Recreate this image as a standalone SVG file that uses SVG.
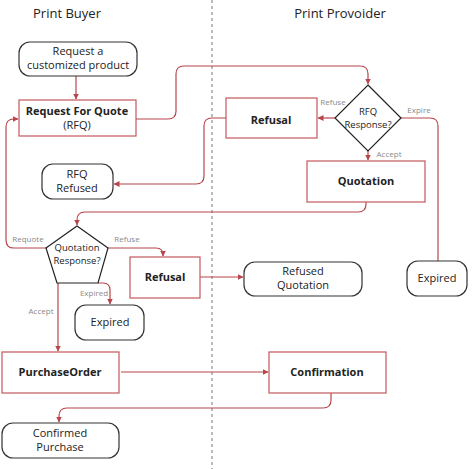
<svg xmlns="http://www.w3.org/2000/svg" width="474" height="469" viewBox="0 0 474 469">
<style>
text{font-family:"Open Sans","Noto Sans","DejaVu Sans",sans-serif;fill:#222;text-anchor:middle}
.t{font-size:13px}
.n{font-size:11px}
.s{font-size:9.5px}
.b{font-size:11px;font-weight:bold}
.l{font-size:8px;fill:#8a8a8a}
.box{fill:#fff;stroke:#c4575c;stroke-width:1.2}
.rnd{fill:#fff;stroke:#333;stroke-width:1.2}
.dec{fill:#fff;stroke:#222;stroke-width:1.2}
.c{fill:none;stroke:#b8464c;stroke-width:1.2}
</style>
<defs>
<marker id="a" viewBox="0 0 6 6" refX="5.5" refY="3" markerWidth="5" markerHeight="5" orient="auto">
<path d="M0,0 L6,3 L0,6 z" fill="#b8464c"/>
</marker>
</defs>
<line x1="212" y1="0" x2="212" y2="469" stroke="#777" stroke-width="1" stroke-dasharray="3,3"/>
<text class="t" x="67" y="18">Print Buyer</text>
<text class="t" x="340" y="18">Print Provoider</text>

<g id="connectors">
<path class="c" d="M76,76 V99" marker-end="url(#a)"/>
<path class="c" d="M136,119 H168 Q176,119 176,111 V74 Q176,66 184,66 H360 Q368,66 368,74 V84" marker-end="url(#a)"/>
<path class="c" d="M335,118 H318" marker-end="url(#a)"/>
<path class="c" d="M226,118 H212 Q204,118 204,126 V176 Q204,184 196,184 H114" marker-end="url(#a)"/>
<path class="c" d="M401,118 H430 Q438,118 438,126 V261"/>
<path class="c" d="M368,151 V160" marker-end="url(#a)"/>
<path class="c" d="M366,202 V204 Q366,212 358,212 H85 Q77,212 77,220 V225" marker-end="url(#a)"/>
<path class="c" d="M46,248 H14 Q6,248 6,240 V127 Q6,119 14,119 H18" marker-end="url(#a)"/>
<path class="c" d="M108,248 H156 Q163,248 163,255 V256" marker-end="url(#a)"/>
<path class="c" d="M200,277 H243" marker-end="url(#a)"/>
<path class="c" d="M98,283 H103 Q110,283 110,290 V304" marker-end="url(#a)"/>
<path class="c" d="M58,283 V351" marker-end="url(#a)"/>
<path class="c" d="M121,372 H268" marker-end="url(#a)"/>
<path class="c" d="M331,393 V400 Q331,408 323,408 H67 Q59,408 59,416 V422" marker-end="url(#a)"/>
<text class="l" x="333" y="105">Refuse</text>
<text class="l" x="419" y="113">Expire</text>
<text class="l" x="389" y="157">Accept</text>
<text class="l" x="28" y="242">Requote</text>
<text class="l" x="127" y="242">Refuse</text>
<text class="l" x="94" y="296">Expired</text>
<text class="l" x="41" y="314">Accept</text>
</g>

<g id="request-product">
<rect class="rnd" x="19" y="42" width="118" height="34" rx="11"/>
<text class="n" x="78" y="55">Request a</text>
<text class="n" x="78" y="69">customized product</text>
</g>
<g id="rfq">
<rect class="box" x="19" y="100" width="117" height="36"/>
<text class="b" x="77" y="115">Request For Quote</text>
<text class="n" x="77" y="129">(RFQ)</text>
</g>
<g id="refusal-provider">
<rect class="box" x="226" y="98" width="91" height="40"/>
<text class="b" x="271" y="124">Refusal</text>
</g>
<g id="rfq-response">
<polygon class="dec" points="368,85 401,118 368,151 335,118"/>
<text class="s" x="368" y="115">RFQ</text>
<text class="s" x="368" y="128">Response?</text>
</g>
<g id="rfq-refused">
<rect class="rnd" x="42" y="164" width="71" height="35" rx="11"/>
<text class="n" x="77" y="178">RFQ</text>
<text class="n" x="77" y="192">Refused</text>
</g>
<g id="quotation">
<rect class="box" x="307" y="161" width="118" height="41"/>
<text class="b" x="366" y="185">Quotation</text>
</g>
<g id="quotation-response">
<polygon class="dec" points="77,226 108,248 98,283 57,283 46,248"/>
<text class="s" x="77" y="251">Quotation</text>
<text class="s" x="77" y="264">Response?</text>
</g>
<g id="refusal-buyer">
<rect class="box" x="130" y="257" width="70" height="41"/>
<text class="b" x="165" y="281">Refusal</text>
</g>
<g id="refused-quotation">
<rect class="rnd" x="244" y="262" width="118" height="34" rx="11"/>
<text class="n" x="303" y="275">Refused</text>
<text class="n" x="303" y="289">Quotation</text>
</g>
<g id="expired-provider">
<rect class="rnd" x="407" y="261" width="60" height="35" rx="11"/>
<text class="n" x="437" y="282">Expired</text>
</g>
<g id="expired-buyer">
<rect class="rnd" x="75" y="305" width="69" height="35" rx="11"/>
<text class="n" x="110" y="326">Expired</text>
</g>
<g id="purchase-order">
<rect class="box" x="2" y="352" width="117" height="41"/>
<text class="b" x="60" y="376">PurchaseOrder</text>
</g>
<g id="confirmation">
<rect class="box" x="269" y="352" width="117" height="41"/>
<text class="b" x="327" y="376">Confirmation</text>
</g>
<g id="confirmed-purchase">
<rect class="rnd" x="2" y="423" width="117" height="35" rx="11"/>
<text class="n" x="60" y="437">Confirmed</text>
<text class="n" x="60" y="451">Purchase</text>
</g>
</svg>
